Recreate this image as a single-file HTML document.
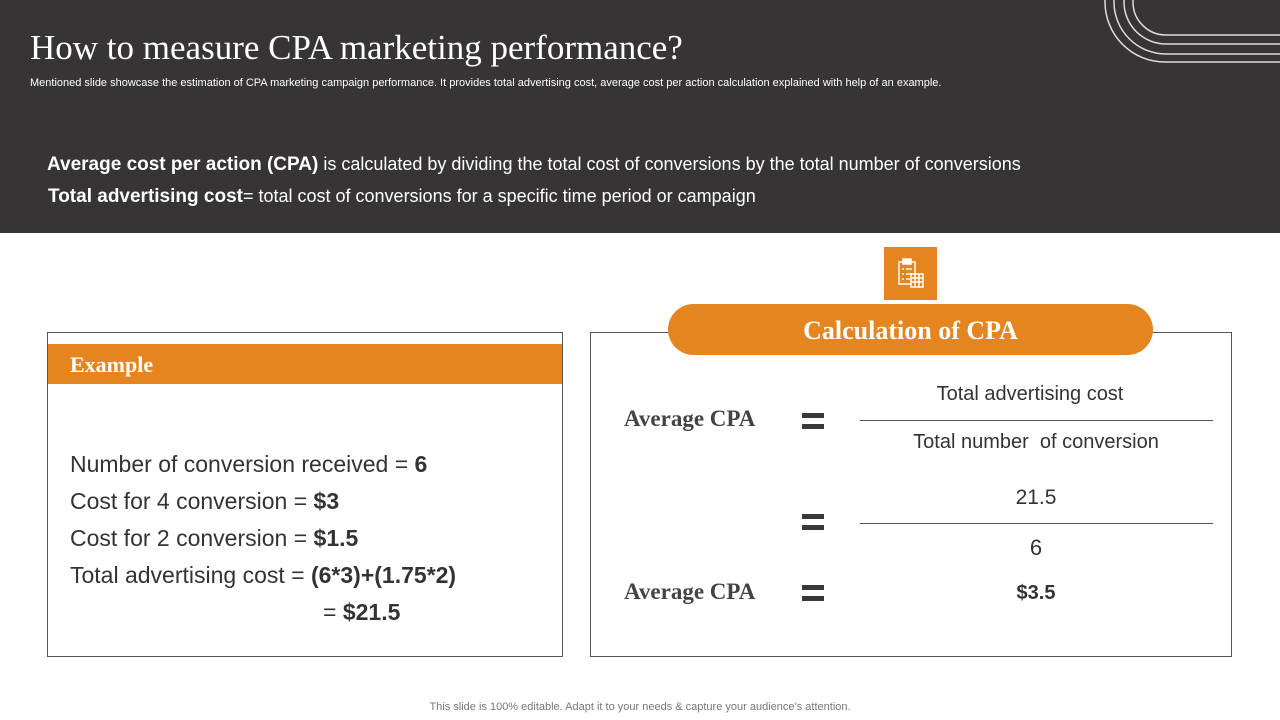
<!DOCTYPE html>
<html><head><meta charset="utf-8"><style>
body{margin:0;width:1280px;height:720px;position:relative;background:#fff;font-family:"Liberation Sans",sans-serif;overflow:hidden}
.a{position:absolute}
.serif{font-family:"Liberation Serif",serif}
.eq{position:absolute;width:22px;height:16px}
.eq:before,.eq:after{content:"";position:absolute;left:0;width:22px;height:5px;background:#3a3838}
.eq:before{top:0}.eq:after{bottom:0}
</style></head><body>
<div class="a" style="left:0;top:0;width:1280px;height:233px;background:#363434"></div>
<svg class="a" style="left:1090px;top:0" width="190" height="80">
<g fill="none" stroke="#ddd" stroke-width="1.5">
<path d="M15 0 V2 A60 60 0 0 0 75 62 H190"/>
<path d="M24 0 V2 A52 52 0 0 0 76 54 H190"/>
<path d="M34 0 V2 A42 42 0 0 0 76 44 H190"/>
<path d="M43 0 V2 A33 33 0 0 0 76 35 H190"/>
</g></svg>
<div class="a serif" style="left:30px;top:28px;font-size:35px;color:#fff">How to measure CPA marketing performance?</div>
<div class="a" style="left:30px;top:77px;font-size:11px;color:#fff">Mentioned slide showcase the estimation of CPA marketing campaign performance. It provides total advertising cost, average cost per action calculation explained with help of an example.</div>
<div class="a" style="left:47px;top:154px;font-size:18px;color:#fff"><b style="font-size:19px">Average cost per action (CPA)</b> is calculated by dividing the total cost of conversions by the total number of conversions</div>
<div class="a" style="left:48px;top:186px;font-size:18px;color:#fff"><b style="font-size:19px">Total advertising cost</b>= total cost of conversions for a specific time period or campaign</div>

<div class="a" style="left:47px;top:332px;width:514px;height:323px;border:1px solid #555"></div>
<div class="a serif" style="left:48px;top:344px;width:514px;height:40px;background:#e5851f;color:#fff;font-weight:bold;font-size:22px;line-height:42px;box-sizing:border-box;padding-left:22px">Example</div>
<div class="a" style="left:70px;top:446px;font-size:23px;color:#333;line-height:37px">
Number of conversion received = <b>6</b><br>Cost for 4 conversion = <b>$3</b><br>Cost for 2 conversion = <b>$1.5</b><br>Total advertising cost = <b>(6*3)+(1.75*2)</b><br><span style="padding-left:253px">= <b>$21.5</b></span></div>

<div class="a" style="left:590px;top:332px;width:640px;height:323px;border:1px solid #555"></div>
<div class="a" style="left:884px;top:247px;width:53px;height:53px;background:#e5851f">
<svg width="53" height="53"><g fill="none" stroke="#fff" stroke-width="1.5"><rect x="15" y="15" width="16" height="22"/><rect x="19" y="12" width="8" height="5" fill="#fff"/><path d="M18 22h2M22 22h6M18 27h2M22 27h6M18 32h2M22 32h4"/><rect x="27" y="27" width="12" height="13" fill="#e5851f"/><path d="M27 31h12M27 35h12M31 27v13M35 27v13"/></g></svg></div>
<div class="a serif" style="left:668px;top:304px;width:485px;height:51px;border-radius:26px;background:#e5851f;color:#fff;font-weight:bold;font-size:26px;text-align:center;line-height:53px">Calculation of CPA</div>

<div class="a serif" style="left:624px;top:406px;font-size:23px;font-weight:bold;color:#444">Average CPA</div>
<div class="eq" style="left:802px;top:413px"></div>
<div class="a" style="left:860px;top:383px;width:340px;text-align:center;font-size:20px;color:#333">Total advertising cost</div>
<div class="a" style="left:860px;top:420px;width:353px;height:1px;background:#555"></div>
<div class="a" style="left:860px;top:431px;width:352px;text-align:center;font-size:20px;color:#333">Total number &nbsp;of conversion</div>

<div class="eq" style="left:802px;top:514px"></div>
<div class="a" style="left:860px;top:486px;width:352px;text-align:center;font-size:21px;color:#333">21.5</div>
<div class="a" style="left:860px;top:523px;width:353px;height:1px;background:#555"></div>
<div class="a" style="left:860px;top:535px;width:352px;text-align:center;font-size:22px;color:#333">6</div>

<div class="a serif" style="left:624px;top:579px;font-size:23px;font-weight:bold;color:#444">Average CPA</div>
<div class="eq" style="left:802px;top:585px"></div>
<div class="a" style="left:860px;top:582px;width:352px;text-align:center;font-size:20px;font-weight:bold;color:#333">$3.5</div>

<div class="a" style="left:0;top:701px;width:1280px;text-align:center;font-size:11px;color:#777">This slide is 100% editable. Adapt it to your needs &amp; capture your audience’s attention.</div>
</body></html>
